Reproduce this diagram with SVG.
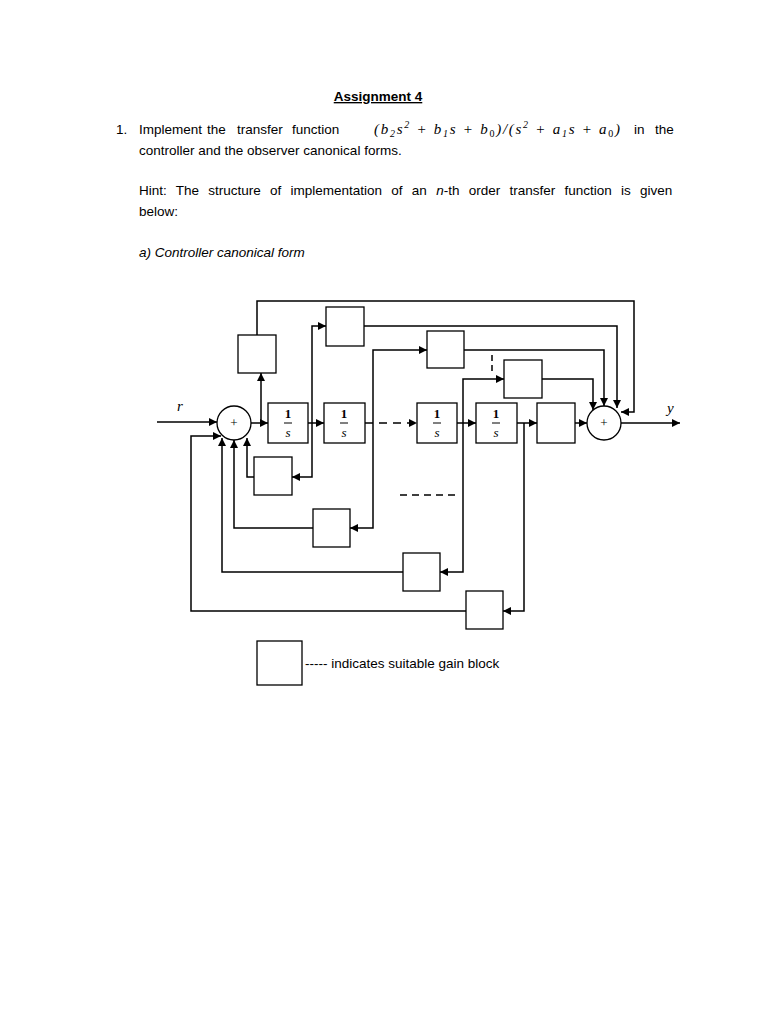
<svg xmlns="http://www.w3.org/2000/svg" width="768" height="1024" viewBox="0 0 768 1024">
<defs>
<marker id="a" viewBox="0 0 10 10" refX="10" refY="5" markerWidth="8" markerHeight="8" markerUnits="userSpaceOnUse" orient="auto"><path d="M0,0L10,5L0,10z" fill="#000"/></marker>
<style>
.t{font-family:"Liberation Sans","Open Sans",sans-serif;font-size:13.5px;fill:#000}
.m{font-family:"Liberation Serif",serif;font-style:italic;font-size:15px}
.b{fill:#fff;stroke:#000;stroke-width:1.3}
.w{fill:none;stroke:#000;stroke-width:1.5}
.ar{marker-end:url(#a)}
.f{font-family:"Liberation Serif",serif;font-size:13px;text-anchor:middle;fill:#000}
</style>
</defs>
<rect width="768" height="1024" fill="#fff"/>
<text class="t" x="378" y="101" text-anchor="middle" font-weight="bold" text-decoration="underline">Assignment 4</text>
<text class="t" x="116" y="134">1.</text>
<text class="t" x="139" y="134">Implement</text>
<text class="t" x="207" y="134">the</text>
<text class="t" x="237" y="134">transfer</text>
<text class="t" x="292" y="134">function</text>
<text class="m" x="374" y="134" textLength="246" lengthAdjust="spacing">(b<tspan font-size="10" dy="3">2</tspan><tspan dy="-3">s</tspan><tspan font-size="10" dy="-6">2</tspan><tspan dy="6"> + b</tspan><tspan font-size="10" dy="3">1</tspan><tspan dy="-3">s + b</tspan><tspan font-size="10" font-style="normal" dy="3">0</tspan><tspan dy="-3">)/(s</tspan><tspan font-size="10" dy="-6">2</tspan><tspan dy="6"> + a</tspan><tspan font-size="10" dy="3">1</tspan><tspan dy="-3">s + a</tspan><tspan font-size="10" font-style="normal" dy="3">0</tspan><tspan dy="-3">)</tspan></text>
<text class="t" x="634" y="134">in</text>
<text class="t" x="655" y="134">the</text>
<text class="t" x="139" y="155">controller and the observer canonical forms.</text>
<text class="t" x="139" y="195" word-spacing="5.5">Hint:  The structure of implementation of an <tspan font-style="italic">n</tspan>-th order transfer function is given</text>
<text class="t" x="139" y="216">below:</text>
<text class="t" x="139" y="257" font-style="italic">a) Controller canonical form</text>

<g id="connectors">
<path class="w ar" d="M157,422H217"/>
<path class="w ar" d="M251,423H268"/>
<path class="w ar" d="M308,423H324"/>
<path class="w ar" d="M365,423H417" stroke-dasharray="8,6"/>
<path class="w ar" d="M457,423H476"/>
<path class="w ar" d="M517,423H537"/>
<path class="w ar" d="M575,423H587"/>
<path class="w ar" d="M621,423H680"/>
<path class="w ar" d="M261,423V373"/>
<path class="w ar" d="M257,335V301H634V412H621"/>
<path class="w ar" d="M312,423V326H326"/>
<path class="w ar" d="M312,423V477H292"/>
<path class="w ar" d="M364,326H617V408"/>
<path class="w ar" d="M373,423V350H427"/>
<path class="w ar" d="M373,423V528H350"/>
<path class="w ar" d="M464,350H604V406"/>
<path class="w ar" d="M463,423V379H504"/>
<path class="w ar" d="M463,423V572H440"/>
<path class="w ar" d="M542,379H593V410"/>
<path class="w ar" d="M524,423V611H503"/>
<path class="w ar" d="M254,477H247V438"/>
<path class="w ar" d="M313,528H234V440"/>
<path class="w ar" d="M403,572H222V438"/>
<path class="w ar" d="M466,611H191V436H221"/>
<path class="w" d="M492,355V372" stroke-dasharray="6,4"/>
<path class="w" d="M400,495H458" stroke-dasharray="7,5"/>
</g>

<g id="sum1"><circle class="b" cx="234" cy="423" r="17"/><text class="f" x="234" y="427" font-size="10">+</text></g>
<g id="sum2"><circle class="b" cx="604" cy="423" r="17"/><text class="f" x="604" y="427" font-size="10">+</text></g>
<g id="int1"><rect class="b" x="268" y="403" width="40" height="40"/><text class="f" x="288" y="418" font-weight="bold">1</text><path d="M284,423H292" stroke="#000"/><text class="f" x="288" y="437" font-style="italic">s</text></g>
<g id="int2"><rect class="b" x="324" y="403" width="41" height="40"/><text class="f" x="344" y="418" font-weight="bold">1</text><path d="M340,423H348" stroke="#000"/><text class="f" x="344" y="437" font-style="italic">s</text></g>
<g id="int3"><rect class="b" x="417" y="403" width="40" height="40"/><text class="f" x="437" y="418" font-weight="bold">1</text><path d="M433,423H441" stroke="#000"/><text class="f" x="437" y="437" font-style="italic">s</text></g>
<g id="int4"><rect class="b" x="476" y="403" width="41" height="40"/><text class="f" x="496" y="418" font-weight="bold">1</text><path d="M492,423H500" stroke="#000"/><text class="f" x="496" y="437" font-style="italic">s</text></g>
<g id="gainD"><rect class="b" x="537" y="403" width="38" height="40"/></g>
<g id="gainTop"><rect class="b" x="238" y="335" width="38" height="38"/></g>
<g id="b1"><rect class="b" x="326" y="307" width="38" height="39"/></g>
<g id="b2"><rect class="b" x="427" y="331" width="37" height="37"/></g>
<g id="b3"><rect class="b" x="504" y="360" width="38" height="38"/></g>
<g id="f1"><rect class="b" x="254" y="457" width="38" height="38"/></g>
<g id="f2"><rect class="b" x="313" y="509" width="37" height="38"/></g>
<g id="f3"><rect class="b" x="403" y="553" width="37" height="38"/></g>
<g id="f4"><rect class="b" x="466" y="591" width="37" height="38"/></g>
<text class="m" x="177" y="411">r</text>
<text class="m" x="667" y="413">y</text>
<g id="legend"><rect class="b" x="257" y="641" width="45" height="44"/><text class="t" x="305" y="668" font-size="12">----- indicates suitable gain block</text></g>
</svg>
